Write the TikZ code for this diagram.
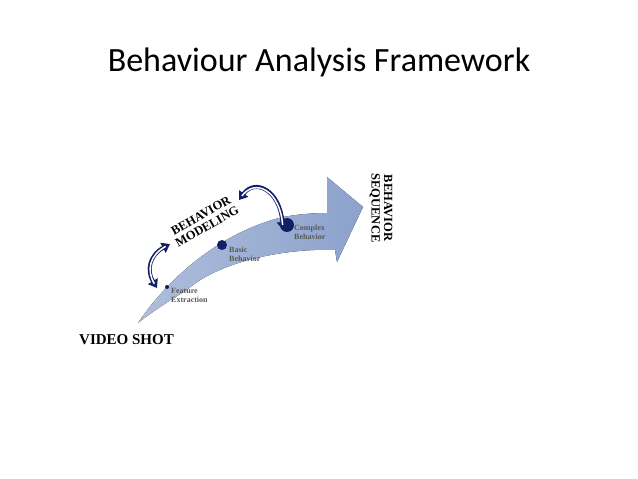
\documentclass[tikz,border=0pt]{standalone}
\usepackage{fontspec}
\setmainfont{Liberation Serif}
\newfontfamily\titlefont{Carlito}
\usetikzlibrary{arrows.meta}
\definecolor{arrowblue}{RGB}{140,162,204}
\definecolor{dotblue}{RGB}{20,30,100}
\tikzset{
 lbl/.style={font=\fontsize{8}{9}\selectfont\bfseries, text=black!65, align=left, inner sep=0pt, anchor=north west},
 big/.style={font=\fontsize{12.5}{12.5}\selectfont\bfseries, align=center, inner sep=0pt},
 dblout/.style={draw=dotblue, line width=4pt, {Triangle[length=8pt,width=11pt]}-{Triangle[length=8pt,width=11pt]}},
 dblin/.style={draw=white, line width=1.5pt, shorten <=5pt, shorten >=5pt}
}
\begin{document}
\begin{tikzpicture}[x=1pt,y=-1pt]
\useasboundingbox (0,0) rectangle (638,479);
\node[font=\titlefont\fontsize{34}{34}\selectfont] (title) at (319,62) {Behaviour Analysis Framework};
% big arrow
\fill[left color=arrowblue!70, right color=arrowblue] (138,323) .. controls (160,290) and (210,235) .. (283,217)
 .. controls (300,214) and (315,213) .. (327,213) -- (327,177) -- (363,207) -- (337,262)
 -- (335,250) .. controls (290,248) and (220,260) .. (187,290) .. controls (165,303) and (148,315) .. (138,323) -- cycle;
% dots
\fill[dotblue] (167,287) circle (2);
\fill[dotblue] (222,245) circle (5);
\fill[dotblue] (287,225) circle (7);
\node[lbl] (fel) at (171,288) {Feature\\Extraction};
\node[lbl] (bbl) at (229,247) {Basic\\Behavior};
\node[lbl] (cbl) at (294,225) {Complex\\Behavior};
% curved double arrows
\coordinate (a1) at (157,288);
\coordinate (a2) at (170,244);
\draw[dblout] (a1) .. controls (146,270) and (150,255) .. (a2);
\draw[dblin] (a1) .. controls (146,270) and (150,255) .. (a2);
\coordinate (b1) at (239,200);
\coordinate (b2) at (283,230);
\draw[dblout] (b1) .. controls (255,178) and (280,190) .. (b2);
\draw[dblin] (b1) .. controls (255,178) and (280,190) .. (b2);
\node[big, rotate=30] (bm) at (204,221) {BEHAVIOR\\MODELING};
\node[big, rotate=-90] (bs) at (381,208) {BEHAVIOR\\SEQUENCE};
\node[big, font=\fontsize{15}{15}\selectfont\bfseries, anchor=west] (vs) at (79,340) {VIDEO SHOT};
\end{tikzpicture}
\end{document}
